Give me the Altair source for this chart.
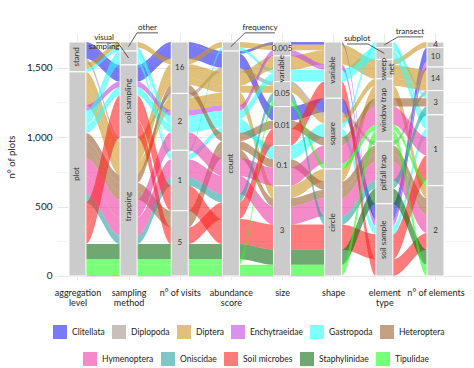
import json
import altair as alt
import pandas as pd

# ---------------- data ----------------
AXIS_LABELS = ["aggregation|level", "sampling|method", "n° of visits", "abundance|score",
               "size", "shape", "element|type", "n° of elements"]

STRATA = [
    ["stand", "plot"],
    ["other", "visual sampling", "soil sampling", "trapping"],
    ["16", "2", "1", "5"],
    ["frequency", "count"],
    ["0.005", "variable", "0.05", "0.01", "0.1", "3"],
    ["variable", "square", "circle"],
    ["transect", "subplot", "sweep net", "window trap", "pitfall trap", "soil sample"],
    ["4", "10", "14", "3", "1", "2"],
]

TAXA = ["Clitellata", "Diplopoda", "Diptera", "Enchytraeidae", "Gastropoda", "Heteroptera",
        "Hymenoptera", "Oniscidae", "Soil microbes", "Staphylinidae", "Tipulidae"]
TAXA_COLORS = ["#2121EE", "#A39689", "#CB9621", "#C146E3", "#2BFFFF", "#9D6132",
               "#EE3CA4", "#2AA2A2", "#FF2121", "#0F6E11", "#21FF21"]

taxon = ["Clitellata", "Clitellata", "Diplopoda", "Diptera", "Gastropoda", "Diptera",
         "Diptera", "Diptera", "Enchytraeidae", "Gastropoda", "Gastropoda", "Gastropoda",
         "Heteroptera", "Heteroptera", "Heteroptera", "Hymenoptera", "Hymenoptera",
         "Oniscidae", "Soil microbes", "Soil microbes", "Staphylinidae", "Tipulidae", "Tipulidae"]
aggregation = ["stand", "stand", "stand", "stand", "stand", "plot", "plot", "plot", "plot",
               "plot", "plot", "plot", "plot", "plot", "plot", "plot", "plot", "plot", "plot",
               "plot", "plot", "plot", "plot"]
sampling = ["soil sampling", "soil sampling", "trapping", "other", "other", "trapping",
            "trapping", "trapping", "soil sampling", "visual sampling", "visual sampling",
            "soil sampling", "trapping", "trapping", "trapping", "trapping", "trapping",
            "trapping", "soil sampling", "soil sampling", "trapping", "trapping", "trapping"]
visits = ["16", "16", "2", "16", "1", "16", "16", "2", "2", "2", "1", "2", "16", "5", "5",
          "2", "1", "1", "1", "5", "5", "5", "5"]
abundance = ["count", "count", "count", "frequency", "frequency", "count", "count", "count",
             "count", "count", "count", "count", "count", "count", "count", "count", "count",
             "count", "count", "count", "count", "count", "count"]
size = ["0.01", "0.005", "0.05", "0.005", "variable", "variable", "0.05", "3", "0.005",
        "variable", "0.1", "0.1", "0.01", "0.1", "3", "0.1", "3", "0.05", "3", "0.01", "3",
        "3", "0.05"]
shape = ["square", "variable", "square", "variable", "variable", "variable", "square",
         "circle", "variable", "variable", "square", "square", "square", "circle", "circle",
         "square", "circle", "circle", "circle", "variable", "circle", "circle", "square"]
element = ["soil sample", "soil sample", "pitfall trap", "sweep net", "subplot", "sweep net",
           "window trap", "window trap", "soil sample", "subplot", "transect", "soil sample",
           "window trap", "pitfall trap", "pitfall trap", "window trap", "pitfall trap",
           "pitfall trap", "soil sample", "soil sample", "pitfall trap", "window trap",
           "window trap"]
n_elements = ["10", "14", "3", "4", "3", "14", "14", "2", "10", "1", "1", "1", "3", "2", "2",
              "1", "2", "3", "1", "2", "2", "2", "1"]
n_plots = [100, 20, 30, 40, 25, 100, 50, 90, 40, 60, 40, 60, 60, 60, 60, 130, 130, 60, 180,
           120, 110, 80, 40]

CALLOUTS = ["visual sampling", "other", "frequency", "subplot", "transect"]

# ---------------- alluvial layout ----------------
cols = [aggregation, sampling, visits, abundance, size, shape, element, n_elements]
n_ax = len(cols)
n_al = len(n_plots)
total = sum(n_plots)
idx = [[STRATA[a].index(cols[a][r]) for r in range(n_al)] for a in range(n_ax)]
lode = [[None] * n_al for _ in range(n_ax)]
strata_rows = []
for a in range(n_ax):
    order_axes = []
    for d in range(1, n_ax):
        for b in (a + d, a - d):
            if 0 <= b < n_ax:
                order_axes.append(b)
    top = total
    for s_i, s in enumerate(STRATA[a]):
        members = [r for r in range(n_al) if idx[a][r] == s_i]
        members.sort(key=lambda r: (TAXA.index(taxon[r]),) + tuple(idx[b][r] for b in order_axes))
        size_s = sum(n_plots[r] for r in members)
        y = top
        for r in members:
            lode[a][r] = (y - n_plots[r], y)
            y -= n_plots[r]
        strata_rows.append(dict(axis=a + 1, stratum=s, lo=top - size_s, hi=top,
                                mid=top - size_s / 2))
        top -= size_s

HW = 0.166
rib = []
for a in range(n_ax - 1):
    for r in range(n_al):
        (l0, h0), (l1, h1) = lode[a][r], lode[a + 1][r]
        for xv, l, h in [(a + 1, l0, h0), (a + 1 + HW, l0, h0),
                         (a + 2 - HW, l1, h1), (a + 2, l1, h1)]:
            rib.append(dict(seg=f"{a}-{r}", taxon=taxon[r], x=xv, lo=l, hi=h))
rib_df = pd.DataFrame(rib)

strata_df = pd.DataFrame(strata_rows)
strata_df["x0"] = strata_df["axis"] - HW
strata_df["x1"] = strata_df["axis"] + HW


def is_num(s):
    try:
        float(s)
        return True
    except ValueError:
        return False


strata_df["kind"] = ["callout" if s in CALLOUTS else ("h" if is_num(s) else "v")
                     for s in strata_df["stratum"]]
strata_df["label"] = ["sweep\nnet" if s == "sweep net" else s for s in strata_df["stratum"]]


def smid(axis, name):
    row = strata_df[(strata_df.axis == axis) & (strata_df.stratum == name)].iloc[0]
    return float(row["mid"])


# callout annotations (text anchor, leader start, elbow)
ann = [
    dict(label="visual\nsampling", tx=1.52, ty=1686, sx=1.36, ex=1.79, ly=1679, axis=2, st="visual sampling"),
    dict(label="other", tx=2.37, ty=1758, sx=2.575, ex=2.164, ly=1751, axis=2, st="other"),
    dict(label="frequency", tx=4.57, ty=1758, sx=4.86, ex=4.276, ly=1751, axis=4, st="frequency"),
    dict(label="subplot", tx=6.47, ty=1678, sx=6.27, ex=6.68, ly=1671, axis=7, st="subplot"),
    dict(label="transect", tx=7.50, ty=1729, sx=7.757, ex=7.268, ly=1722, axis=7, st="transect"),
]
ann_df = pd.DataFrame([dict(label=d["label"], tx=d["tx"], ty=d["ty"]) for d in ann])
lead = []
for i, d in enumerate(ann):
    pts = [(d["sx"], d["ly"]), (d["ex"], d["ly"]), (d["axis"], smid(d["axis"], d["st"]))]
    for k, (xx, yy) in enumerate(pts):
        lead.append(dict(g=i, k=k, x=xx, y=yy))
lead_df = pd.DataFrame(lead)

# ---------------- chart ----------------
FONT = "Lato"
xscale = alt.Scale(domain=[0.6, 8.714], nice=False, zero=False)
yscale = alt.Scale(domain=[-29, 1750], nice=False, zero=False)

label_expr = "split(" + json.dumps(AXIS_LABELS, ensure_ascii=False) + "[datum.value - 1], '|')"

x_axis = alt.Axis(values=list(range(1, 9)), labelExpr=label_expr, title=None, ticks=False,
                  domain=False, grid=True, gridColor="#e9e9e9", labelFontSize=9,
                  labelPadding=8, labelLineHeight=10, labelFont=FONT, labelColor="#222",
                  labelBaseline="top")
y_axis = alt.Axis(values=[0, 250, 500, 750, 1000, 1250, 1500],
                  labelExpr="datum.value % 500 === 0 ? format(datum.value, ',') : ''",
                  gridColor={"condition": {"test": "datum.value % 500 === 0", "value": "#e6e6e6"},
                             "value": "#f3f3f3"},
                  ticks=False, domain=False, title="n° of plots", titleFontSize=9.5,
                  titleFont=FONT, titleFontWeight="normal", titleColor="#222",
                  labelFontSize=10, labelFont=FONT, labelColor="#222", labelPadding=5,
                  titlePadding=10)


def X(field):
    return alt.X(field, scale=xscale, axis=x_axis)


def Y(field, **kw):
    return alt.Y(field, scale=yscale, axis=y_axis, **kw)


def legend(x, y):
    return alt.Legend(orient="none", legendX=x, legendY=y, direction="horizontal", title=None,
                      symbolType="square", symbolSize=196, symbolOpacity=0.6,
                      symbolStrokeWidth=0, labelFontSize=8.5, labelFont=FONT,
                      labelColor="#222", columnPadding=7, labelOffset=5)


base_rib = alt.Chart(rib_df).mark_area(interpolate="monotone", opacity=0.6)

rib_a = base_rib.transform_filter(
    alt.FieldOneOfPredicate(field="taxon", oneOf=TAXA[:6])
).encode(
    x=X("x:Q"), y=Y("lo:Q", stack=None), y2="hi:Q",
    color=alt.Color("taxon:N", scale=alt.Scale(domain=TAXA[:6], range=TAXA_COLORS[:6]),
                    legend=legend(-4, 292)),
    detail="seg:N",
)
rib_b = base_rib.transform_filter(
    alt.FieldOneOfPredicate(field="taxon", oneOf=TAXA[6:])
).encode(
    x=X("x:Q"), y=Y("lo:Q", stack=None), y2="hi:Q",
    color=alt.Color("taxon:N", scale=alt.Scale(domain=TAXA[6:], range=TAXA_COLORS[6:]),
                    legend=legend(26, 319)),
    detail="seg:N",
)

bars = alt.Chart(strata_df).mark_rect(fill="#cbcbcb", stroke="white", strokeWidth=1).encode(
    x=X("x0:Q"), x2="x1:Q", y=Y("lo:Q"), y2="hi:Q",
)

lab_h = alt.Chart(strata_df).transform_filter("datum.kind == 'h'").mark_text(
    font=FONT, fontSize=8, color="#333"
).encode(x=X("axis:Q"), y=Y("mid:Q"), text="label:N")

lab_v = alt.Chart(strata_df).transform_filter("datum.kind == 'v'").mark_text(
    font=FONT, fontSize=8, color="#333", angle=270, lineBreak="\n", lineHeight=8
).encode(x=X("axis:Q"), y=Y("mid:Q"), text="label:N")

leaders = alt.Chart(lead_df).mark_line(color="#333", strokeWidth=0.8).encode(
    x=X("x:Q"), y=Y("y:Q"), detail="g:N", order="k:Q",
)

ann_text = alt.Chart(ann_df).mark_text(
    font=FONT, fontSize=8, color="#222", baseline="bottom", lineBreak="\n", lineHeight=9
).encode(x=X("tx:Q"), y=Y("ty:Q"), text="label:N")

chart = alt.layer(rib_a, rib_b, bars, lab_h, lab_v, leaders, ann_text).resolve_scale(
    color="independent"
).properties(
    width=415, height=247, autosize=alt.AutoSizeParams(type="none"),
    padding={"left": 57, "top": 33, "right": 2, "bottom": 88},
).configure_view(stroke=None)

chart.save("out.html", embed_options={"renderer": "svg", "actions": False})
